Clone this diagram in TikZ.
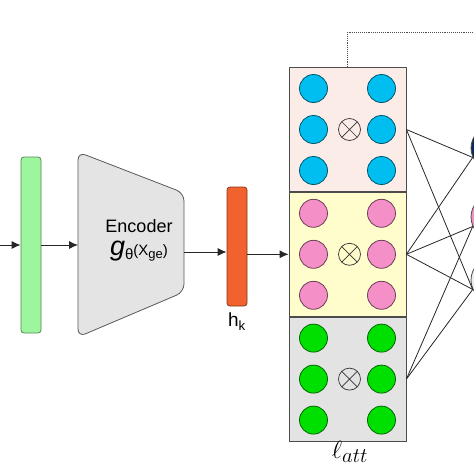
\documentclass[tikz,border=0pt]{standalone}
\usepackage{fontspec}
\setmainfont{Liberation Sans}
\usetikzlibrary{arrows.meta,positioning}

\definecolor{barGreen}{HTML}{9DF59D}
\definecolor{barOrange}{HTML}{F2622E}
\definecolor{encGray}{HTML}{E4E4E4}
\definecolor{secPink}{HTML}{FCECE8}
\definecolor{secYellow}{HTML}{FEFDCB}
\definecolor{secGray}{HTML}{E3E3E3}
\definecolor{cyanDot}{HTML}{00BFF0}
\definecolor{pinkDot}{HTML}{F48FC8}
\definecolor{greenDot}{HTML}{00E000}
\definecolor{navyDot}{HTML}{0B2A5C}

\tikzset{
  bar/.style={draw=#1!55!black, fill=#1, rounded corners=3pt, minimum width=20pt, line width=0.8pt},
  sec/.style={draw=black!70, minimum width=117pt, minimum height=124pt, line width=0.8pt},
  dot/.style={circle, draw=#1!45!black, fill=#1, minimum size=28pt, line width=0.8pt},
  outdot/.style={circle, draw=black!70, fill=#1, minimum size=44pt, line width=0.8pt},
  otimes/.style={circle, draw=black!80, minimum size=22pt, line width=0.7pt,
    path picture={\draw[black!80, line width=0.7pt]
      (path picture bounding box.north west) -- (path picture bounding box.south east)
      (path picture bounding box.south west) -- (path picture bounding box.north east);}},
  arr/.style={-{Latex[length=9pt,width=8pt]}, line width=0.8pt, black!85},
  link/.style={line width=0.8pt, black!85}
}

\begin{document}
\begin{tikzpicture}[x=1pt, y=-1pt, every node/.style={inner sep=0pt}]
  \useasboundingbox (0,0) rectangle (474,474);
  \clip (0,0) rectangle (474,474);

  % input bar and encoder
  \coordinate (in) at (0,245);
  \node[bar=barGreen, minimum height=176pt] (gbar) at (31,245) {};
  \draw[draw=black!65, fill=encGray, line width=0.8pt, rounded corners=8pt]
    (78,152) -- (184,193) -- (184,292) -- (78,337) -- cycle;
  \coordinate (encin) at (78,245);
  \coordinate (encout) at (184,252);
  \node[align=center, font=\fontsize{18}{23}\selectfont] (enc) at (139,240)
    {Encoder\\[0pt]{\fontsize{27}{27}\selectfont\itshape g}{\fontsize{15}{15}\selectfont\raisebox{-4pt}{θ}(X\raisebox{-3pt}{\fontsize{13}{13}\selectfont ge})}};

  % latent code
  \node[bar=barOrange, minimum height=119pt] (hbar) at (237,246.5) {};
  \node[below=6pt of hbar, font=\fontsize{19}{20}\selectfont] (hk) {h\textsubscript{k}};

  \draw[arr] (in) -- (gbar);
  \draw[arr] (gbar) -- (encin);
  \draw[arr] (encout) -- (encout -| hbar.west);

  % attention block
  \node[sec, fill=secPink] (seca) at (347.5,129.5) {};
  \node[sec, fill=secYellow, below=0pt of seca] (secb) {};
  \node[sec, fill=secGray, below=0pt of secb] (secc) {};
  \draw[arr] (hbar.east |- secb.west) -- (secb.west);

  \foreach \s/\c in {seca/cyanDot, secb/pinkDot, secc/greenDot} {
    \foreach \dy/\rr in {-41/1, 0/2, 41/3} {
      \node[dot=\c] (\s-l\rr) at ([shift={(-34,\dy)}]\s.center) {};
      \node[dot=\c] (\s-r\rr) at ([shift={(34,\dy)}]\s.center) {};
    }
    \node[otimes] (\s-x) at ([shift={(2,0)}]\s.center) {};
  }

  \node[font=\fontsize{28}{30}\selectfont] (latt) at (350,452) {$\ell_{att}$};

  % dotted feedback line
  \coordinate (dtop) at (347.5,32);
  \coordinate (dend) at (474,32);
  \draw[densely dotted, black!70, line width=0.9pt] (seca.north) -- (dtop) -- (dend);

  % output nodes
  \node[outdot=navyDot] (o1) at (493,148) {};
  \node[outdot=pinkDot] (o2) at (493,217) {};
  \node[outdot=black!8] (o3) at (493,280) {};

  \draw[link] (seca.east) -- (o1.205);
  \draw[link] (seca.east) -- (o3.205);
  \draw[link] (secb.east) -- (o1.205);
  \draw[link] (secb.east) -- (o2.205);
  \draw[link] (secb.east) -- (o3.205);
  \draw[link] (secc.east) -- (o2.205);
  \draw[link] (secc.east) -- (o3.205);
\end{tikzpicture}
\end{document}
